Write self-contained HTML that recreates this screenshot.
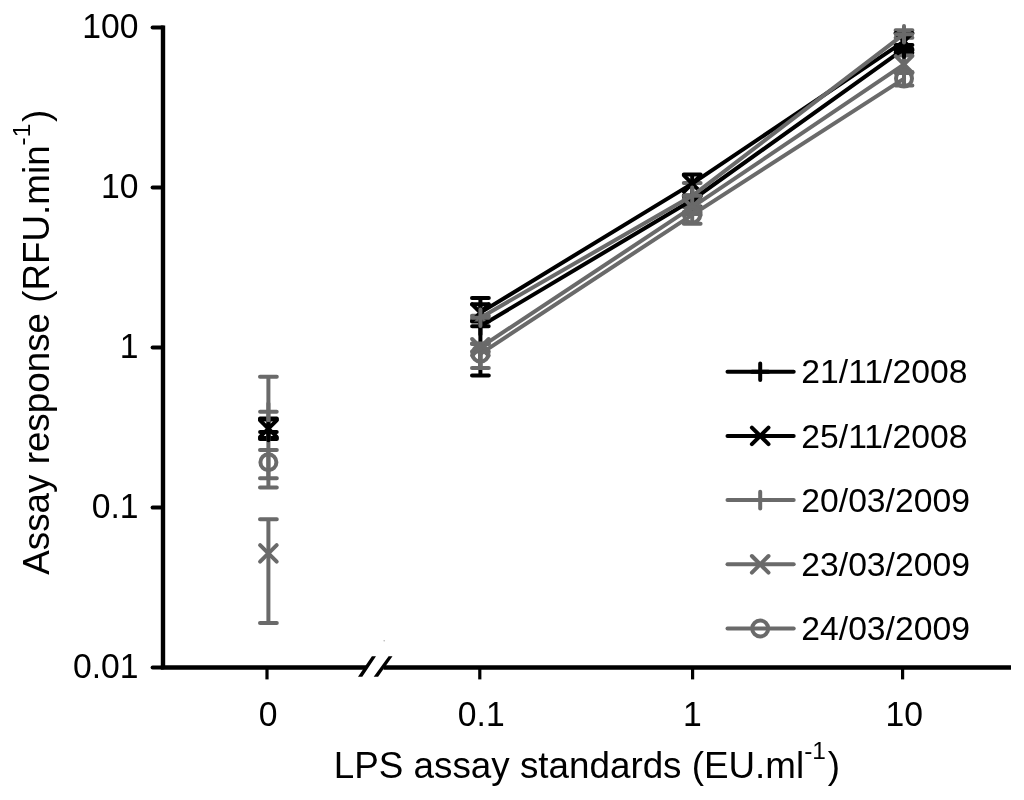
<!DOCTYPE html>
<html lang="en">
<head>
<meta charset="utf-8">
<title>LPS assay standards</title>
<style>
html,body{margin:0;padding:0;background:#fff;}
body{width:1024px;height:800px;overflow:hidden;}
svg{display:block;}
text{font-family:"Liberation Sans",Arial,Helvetica,sans-serif;fill:#000;}
.tk{font-size:33.7px;}
.ti{font-size:36.8px;}
.su{font-size:24.5px;}
</style>
</head>
<body>
<svg width="1024" height="800" viewBox="0 0 1024 800">
<rect width="1024" height="800" fill="#fff"/>

<g fill="none" stroke-width="4.0" stroke-linecap="round" stroke-linejoin="round">
<path d="M268.4 419.6V439.0M260.0 419.6H276.8M260.0 439.0H276.8" stroke="#000" stroke-width="4"/>
<path d="M480.4 298.1V375.6M472.0 298.1H488.8M472.0 375.6H488.8" stroke="#000" stroke-width="4"/>
<path d="M692.2 196.5V206.4M683.8 196.5H700.6M683.8 206.4H700.6" stroke="#000" stroke-width="4"/>
<path d="M904.0 45.0V52.8M895.6 45.0H912.4M895.6 52.8H912.4" stroke="#000" stroke-width="4"/>
<path d="M268.4 418.4V438.0M260.0 418.4H276.8M260.0 438.0H276.8" stroke="#000" stroke-width="4"/>
<path d="M480.4 304.2V321.6M472.0 304.2H488.8M472.0 321.6H488.8" stroke="#000" stroke-width="4"/>
<path d="M692.2 174.4V195.6M683.8 174.4H700.6M683.8 195.6H700.6" stroke="#000" stroke-width="4"/>
<path d="M904.0 33.0V50.5M895.6 33.0H912.4M895.6 50.5H912.4" stroke="#000" stroke-width="4"/>
<path d="M268.4 376.8V487.6M260.0 376.8H276.8M260.0 487.6H276.8" stroke="#6a6a6a" stroke-width="4"/>
<path d="M480.4 315.8V319.6M472.0 315.8H488.8M472.0 319.6H488.8" stroke="#6a6a6a" stroke-width="4"/>
<path d="M692.2 183.1V212.0M683.8 183.1H700.6M683.8 212.0H700.6" stroke="#6a6a6a" stroke-width="4"/>
<path d="M904.0 30.2V37.8M895.6 30.2H912.4M895.6 37.8H912.4" stroke="#6a6a6a" stroke-width="4"/>
<path d="M268.4 519.2V623.0M260.0 519.2H276.8M260.0 623.0H276.8" stroke="#6a6a6a" stroke-width="4"/>
<path d="M480.4 343.4V351.6M472.0 343.4H488.8M472.0 351.6H488.8" stroke="#6a6a6a" stroke-width="4"/>
<path d="M692.2 201.0V214.0M683.8 201.0H700.6M683.8 214.0H700.6" stroke="#6a6a6a" stroke-width="4"/>
<path d="M904.0 55.6V73.0M895.6 55.6H912.4M895.6 73.0H912.4" stroke="#6a6a6a" stroke-width="4"/>
<path d="M268.4 450.0V478.2M260.0 450.0H276.8M260.0 478.2H276.8" stroke="#6a6a6a" stroke-width="4"/>
<path d="M480.4 344.0V368.0M472.0 344.0H488.8M472.0 368.0H488.8" stroke="#6a6a6a" stroke-width="4"/>
<path d="M692.2 207.0V223.8M683.8 207.0H700.6M683.8 223.8H700.6" stroke="#6a6a6a" stroke-width="4"/>
<path d="M904.0 72.0V85.4M895.6 72.0H912.4M895.6 85.4H912.4" stroke="#6a6a6a" stroke-width="4"/>
<path d="M480.4 326.2L692.2 200.0L904.0 48.8" stroke="#000"/>
<path d="M260.1 432.0H276.7M268.4 423.7V440.3" stroke="#000"/>
<path d="M472.1 326.2H488.7M480.4 317.9V334.5" stroke="#000"/>
<path d="M683.9 200.0H700.5M692.2 191.7V208.3" stroke="#000"/>
<path d="M895.7 48.8H912.3M904.0 40.5V57.0" stroke="#000"/>
<path d="M480.4 312.6L692.2 183.6L904.0 41.4" stroke="#000"/>
<path d="M260.1 420.3L276.7 436.9M260.1 436.9L276.7 420.3" stroke="#000"/>
<path d="M472.1 304.3L488.7 320.9M472.1 320.9L488.7 304.3" stroke="#000"/>
<path d="M683.9 175.3L700.5 191.9M683.9 191.9L700.5 175.3" stroke="#000"/>
<path d="M895.7 33.1L912.3 49.7M895.7 49.7L912.3 33.1" stroke="#000"/>
<path d="M480.4 317.7L692.2 195.8L904.0 34.2" stroke="#6a6a6a"/>
<path d="M260.1 411.8H276.7M268.4 403.5V420.1" stroke="#6a6a6a"/>
<path d="M472.1 317.7H488.7M480.4 309.4V326.0" stroke="#6a6a6a"/>
<path d="M683.9 195.8H700.5M692.2 187.5V204.1" stroke="#6a6a6a"/>
<path d="M895.7 34.2H912.3M904.0 25.9V42.5" stroke="#6a6a6a"/>
<path d="M480.4 347.3L692.2 207.2L904.0 64.4" stroke="#6a6a6a"/>
<path d="M260.1 545.1L276.7 561.7M260.1 561.7L276.7 545.1" stroke="#6a6a6a"/>
<path d="M472.1 339.0L488.7 355.6M472.1 355.6L488.7 339.0" stroke="#6a6a6a"/>
<path d="M683.9 198.9L700.5 215.5M683.9 215.5L700.5 198.9" stroke="#6a6a6a"/>
<path d="M895.7 56.1L912.3 72.7M895.7 72.7L912.3 56.1" stroke="#6a6a6a"/>
<path d="M480.4 353.8L692.2 214.8L904.0 78.6" stroke="#6a6a6a"/>
<circle cx="268.4" cy="462.3" r="8" stroke="#6a6a6a" fill="none"/>
<circle cx="480.4" cy="353.8" r="8" stroke="#6a6a6a" fill="none"/>
<circle cx="692.2" cy="214.8" r="8" stroke="#6a6a6a" fill="none"/>
<circle cx="904.0" cy="78.6" r="8" stroke="#6a6a6a" fill="none"/>
</g>
<g stroke="#000" fill="none">
<path d="M163 25.4V667.5" stroke-width="4.4"/>
<path d="M160.8 667.5H366.5M383.5 667.5H1011" stroke-width="4.4"/>
<path d="M152.6 27.5H163" stroke-width="4.0" stroke-linecap="round"/>
<path d="M152.6 187.5H163" stroke-width="4.0" stroke-linecap="round"/>
<path d="M152.6 347.5H163" stroke-width="4.0" stroke-linecap="round"/>
<path d="M152.6 507.5H163" stroke-width="4.0" stroke-linecap="round"/>
<path d="M152.6 667.5H163" stroke-width="4.0" stroke-linecap="round"/>
<path d="M267.0 667.5V679.4" stroke-width="3.2"/>
<path d="M479.8 667.5V679.4" stroke-width="3.2"/>
<path d="M692.6 667.5V679.4" stroke-width="3.2"/>
<path d="M902.6 667.5V679.4" stroke-width="3.2"/>
</g>
<path d="M358 676.8H362.3L376 656.2H371.9Z M373.7 676.8H378.1L392.5 656.2H388.6Z" fill="#000"/>
<circle cx="384.2" cy="640.7" r="0.8" fill="#b5b5b5"/>
<text class="tk" transform="translate(138.5 38.1) scale(1 1.055)" text-anchor="end">100</text>
<text class="tk" transform="translate(138.5 198.1) scale(1 1.055)" text-anchor="end">10</text>
<text class="tk" transform="translate(138.5 358.1) scale(1 1.055)" text-anchor="end">1</text>
<text class="tk" transform="translate(138.5 518.1) scale(1 1.055)" text-anchor="end">0.1</text>
<text class="tk" transform="translate(138.5 678.1) scale(1 1.055)" text-anchor="end">0.01</text>
<text class="tk" transform="translate(268.0 725.7) scale(1 1.055)" text-anchor="middle">0</text>
<text class="tk" transform="translate(481.2 725.7) scale(1 1.055)" text-anchor="middle">0.1</text>
<text class="tk" transform="translate(692.4 725.7) scale(1 1.055)" text-anchor="middle">1</text>
<text class="tk" transform="translate(904.2 725.7) scale(1 1.055)" text-anchor="middle">10</text>
<text class="ti" x="333.8" y="778">LPS assay standards (EU.ml<tspan class="su" dy="-19.5">-1</tspan><tspan dy="19.5" dx="1.8">)</tspan></text>
<text class="ti" transform="translate(48.8 574.8) rotate(-90)">Assay response (RFU.min<tspan class="su" dy="-18.5">-1</tspan><tspan dy="18.5" dx="1.5">)</tspan></text>
<g fill="none" stroke-width="4.0" stroke-linecap="round">
<path d="M727.5 371.7H793.7" stroke="#000"/>
<path d="M751.9 371.7H768.5M760.2 363.4V380.0" stroke="#000"/>
<path d="M727.5 435.9H793.7" stroke="#000"/>
<path d="M751.9 427.6L768.5 444.2M751.9 444.2L768.5 427.6" stroke="#000"/>
<path d="M727.5 500.1H793.7" stroke="#6a6a6a"/>
<path d="M751.9 500.1H768.5M760.2 491.8V508.4" stroke="#6a6a6a"/>
<path d="M727.5 564.3H793.7" stroke="#6a6a6a"/>
<path d="M751.9 556.0L768.5 572.6M751.9 572.6L768.5 556.0" stroke="#6a6a6a"/>
<path d="M727.5 628.5H793.7" stroke="#6a6a6a"/>
<circle cx="760.2" cy="628.5" r="8" stroke="#6a6a6a" fill="none"/>
</g>
<text class="tk" x="801.3" y="383.3">21/11/2008</text>
<text class="tk" x="801.3" y="447.5">25/11/2008</text>
<text class="tk" x="801.3" y="511.7">20/03/2009</text>
<text class="tk" x="801.3" y="575.9">23/03/2009</text>
<text class="tk" x="801.3" y="640.1">24/03/2009</text>
</svg>
</body>
</html>
